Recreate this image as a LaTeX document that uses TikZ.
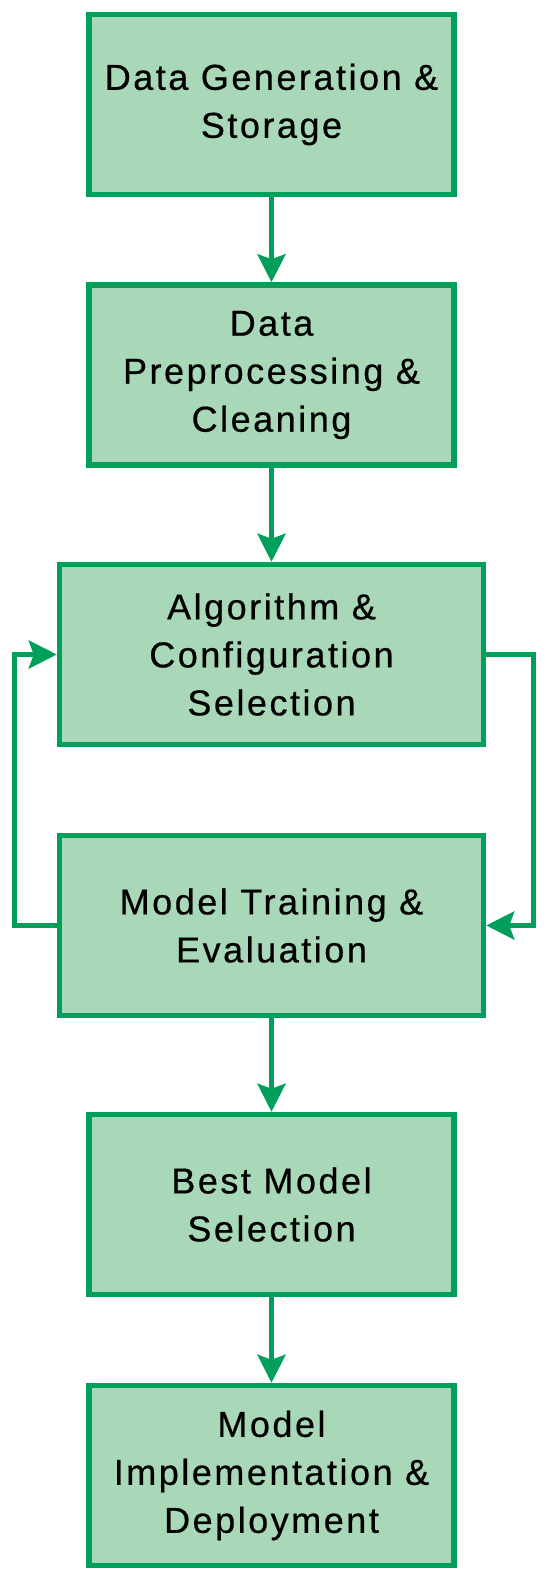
\documentclass[tikz,border=0pt]{standalone}
\usepackage{fontspec}
\newfontfamily\stagefont{Liberation Sans}[LetterSpace=7,FakeBold=0.6]
\usepackage{tikz}
\usetikzlibrary{arrows.meta}
\definecolor{flowgreen}{HTML}{00A05A}
\definecolor{boxfill}{HTML}{A8D8B8}
\tikzset{every edge/.style={draw}}
\tikzset{stage/.style={draw=flowgreen, fill=boxfill, line width=5.5pt, align=center,
    minimum width=365pt, minimum height=180pt, inner sep=0pt,
    font=\stagefont\fontsize{36}{48}\selectfont}}
\tikzset{wide/.style={minimum width=424pt}}
\tikzset{flow/.style={draw=flowgreen, line width=5pt, -{Stealth[length=28pt,width=28pt,inset=5pt]}}}

\begin{document}
\begin{tikzpicture}[x=1pt,y=-1pt]
    \path[use as bounding box] (0,0) rectangle (550,1589);

    \node[stage] at (271.5,104.5) (gen) {Data Generation \&\\Storage};
    \node[stage] at (271.5,375) (prep) {Data\\Preprocessing \&\\Cleaning};
    \node[stage,wide] at (271.5,654.5) (algo) {Algorithm \&\\Configuration\\Selection};
    \node[stage,wide] at (271.5,925.5) (train) {Model Training \&\\Evaluation};
    \node[stage] at (271.5,1204.5) (best) {Best Model\\Selection};
    \node[stage] at (271.5,1475.5) (deploy) {Model\\Implementation \&\\Deployment};

    \draw (gen) edge[flow] (prep);
    \draw (prep) edge[flow] (algo);
    \draw (train) edge[flow] (best);
    \draw (best) edge[flow] (deploy);

    % feedback loop between selection and training
    \draw[flow] (train.west) -- ++(-42,0) |- (algo.west);
    \draw[flow] (algo.east) -- ++(47,0) |- (train.east);
\end{tikzpicture}
\end{document}
